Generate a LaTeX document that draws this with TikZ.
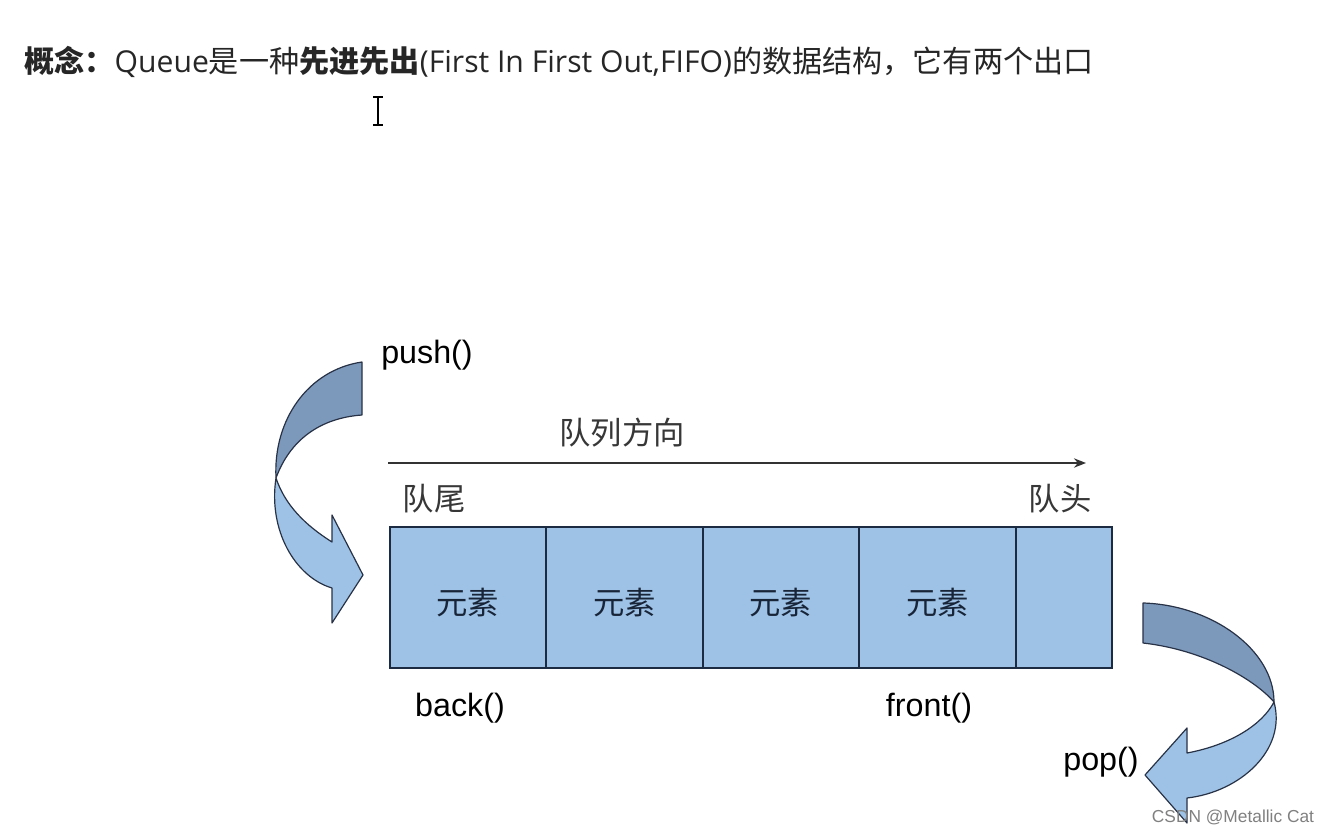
\documentclass[tikz,border=0pt]{standalone}
\usepackage{fontspec}
\setmainfont{Open Sans}
\newfontfamily\cjk{Noto Sans CJK SC}
\newfontfamily\arialf{Liberation Sans}
\usetikzlibrary{arrows.meta}
\definecolor{cellblue}{RGB}{158,194,229}
\definecolor{ribdark}{RGB}{124,153,188}
\definecolor{ribline}{RGB}{40,50,70}
\definecolor{navy}{RGB}{28,42,66}
\definecolor{txtgray}{RGB}{55,55,55}
\tikzset{
  cell/.style={draw=navy, line width=1.3pt, fill=cellblue, minimum height=105.75pt, inner sep=0pt, anchor=north west, font=\cjk\fontsize{23.5}{26}\selectfont, text=navy!85!black, text height=26pt, text depth=0pt},
  lbl/.style={font=\arialf\fontsize{24.2}{28}\selectfont, text=black, inner sep=0pt},
  cjklbl/.style={font=\cjk\fontsize{23.5}{26}\selectfont, text=txtgray, inner sep=0pt},
  ribbon/.style={draw=ribline, line width=0.9pt, line join=round}
}
\begin{document}
\begin{tikzpicture}[x=0.75pt,y=-0.75pt]
\fill[white] (0,0) rectangle (1328,834);
\useasboundingbox (0,0) rectangle (1328,834);
% title
\node[anchor=west, inner sep=0pt, font=\fontsize{22.6}{26}\selectfont, text=black!85] (title) at (24,62)
  {{\cjk\bfseries 概念：}Queue{\cjk 是一种}{\cjk\bfseries 先进先出}(First In First Out,FIFO){\cjk 的数据结构，它有两个出口}};
% text cursor
\draw[line width=1.4pt, black] (378,97) -- (378,125);
\draw[line width=1.1pt, black] (373,97) -- (383,97) (373,125) -- (383,125);
% queue cells
\node[cell, minimum width=117pt] (c1) at (389,526) {元素};
\node[cell, minimum width=117.75pt] (c2) at (545,526) {元素};
\node[cell, minimum width=117pt] (c3) at (702,526) {元素};
\node[cell, minimum width=117.75pt] (c4) at (858,526) {元素};
\node[cell, minimum width=72pt] (c5) at (1015,526) {};
% direction arrow
\coordinate (dirA) at (388,463);
\coordinate (dirB) at (1086,463);
\draw[line width=1.4pt, black!80, -{Stealth[length=9pt,width=7pt]}] (dirA) -- (dirB);
\node[cjklbl] (dir) at (622,433) {队列方向};
\node[cjklbl] (tail) at (434,499) {队尾};
\node[cjklbl] (head) at (1060,499) {队头};
% labels
\node[lbl] (push) at (427,355) {push()};
\node[lbl] (back) at (460,708) {back()};
\node[lbl] (front) at (929,708) {front()};
\node[lbl] (pop) at (1101,762) {pop()};
% push ribbon
\filldraw[ribbon, fill=ribdark] (362,362) .. controls (308,370) and (273,420) .. (276,478)
  .. controls (290,440) and (320,418) .. (362,415) -- cycle;
\filldraw[ribbon, fill=cellblue] (276,478) .. controls (268,530) and (295,577) .. (332,588)
  -- (332,623) -- (363,575) -- (332,515) -- (332,542)
  .. controls (305,525) and (285,505) .. (276,478) -- cycle;
% pop ribbon
\filldraw[ribbon, fill=ribdark] (1143,603) .. controls (1212,605) and (1274,650) .. (1274,702)
  .. controls (1255,680) and (1205,650) .. (1143,643) -- cycle;
\filldraw[ribbon, fill=cellblue] (1274,702) .. controls (1287,750) and (1240,792) .. (1187,798)
  -- (1187,823) -- (1145,775) -- (1187,728) -- (1187,753)
  .. controls (1230,745) and (1262,725) .. (1274,702) -- cycle;
% watermark
\node[font=\arialf\fontsize{13}{16}\selectfont, text=black!50, inner sep=0pt] (wm) at (1233,817) {CSDN @Metallic Cat};
\end{tikzpicture}
\end{document}
